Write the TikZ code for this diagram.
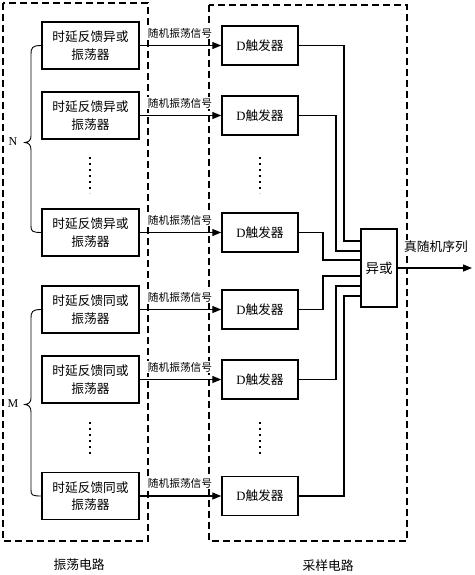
\documentclass[tikz,border=0pt]{standalone}
\usepackage{fontspec}
\setmainfont{Liberation Serif}
\newfontfamily\cjk{Noto Sans CJK SC}
\usetikzlibrary{arrows.meta}
\begin{document}
\begin{tikzpicture}[x=1pt,y=-1pt,
  oscbox/.style={draw,line width=1.5pt,minimum width=97pt,minimum height=47pt,inner sep=0pt,align=center,font=\cjk\fontsize{12.7}{17.5}\selectfont},
  dffbox/.style={draw,line width=1.5pt,minimum width=76pt,minimum height=39pt,inner sep=0pt,font=\fontsize{12.7}{15}\selectfont},
  xorbox/.style={draw,line width=1.5pt,minimum width=36pt,minimum height=78pt,inner sep=0pt,font=\cjk\fontsize{13.5}{15}\selectfont},
  sig/.style={-{Triangle[length=9pt,width=7pt]},line width=1.4pt},
  wire/.style={line width=1.2pt},
  siglabel/.style={fill=white,inner sep=1pt,font=\cjk\fontsize{10.7}{12}\selectfont},
  region/.style={line width=1.2pt,dash pattern=on 7pt off 4pt},
  vdots/.style={line width=2pt,dash pattern=on 2pt off 4pt},
  brace/.style={line width=0.9pt},
  caption/.style={font=\cjk\fontsize{12.75}{15}\selectfont}]
\useasboundingbox (0,0) rectangle (474,575);
% dashed regions
\draw[region] (3,3) rectangle (148,541);
\draw[region] (209,5) rectangle (407,541);
% oscillators
\node[oscbox] (o1) at (90.5,45.5) {时延反馈异或\\振荡器};
\node[oscbox] (o2) at (90.5,115.5) {时延反馈异或\\振荡器};
\node[oscbox] (o3) at (90.5,232.5) {时延反馈异或\\振荡器};
\node[oscbox] (o4) at (90.5,309.5) {时延反馈同或\\振荡器};
\node[oscbox] (o5) at (90.5,379.5) {时延反馈同或\\振荡器};
\node[oscbox] (o6) at (90.5,496) {时延反馈同或\\振荡器};
% D flip-flops
\node[dffbox] (d1) at (260,45.5) {D{\cjk 触发器}};
\node[dffbox] (d2) at (260,115.5) {D{\cjk 触发器}};
\node[dffbox] (d3) at (260,232.5) {D{\cjk 触发器}};
\node[dffbox] (d4) at (260,309.5) {D{\cjk 触发器}};
\node[dffbox] (d5) at (260,379.5) {D{\cjk 触发器}};
\node[dffbox] (d6) at (260,496) {D{\cjk 触发器}};
% XOR
\node[xorbox] (xor) at (379,268) {异或};
% signals
\foreach \i/\ly in {1/33,2/103,3/220,4/297,5/367,6/483}{
  \draw[sig] (o\i.east) -- (d\i.west);
  \node[siglabel] (l\i) at (180,\ly) {随机振荡信号};
}
% wiring to XOR
\draw[wire] (d1.east) -| (344,241) -- ([yshift=27pt]xor.west);
\draw[wire] (d2.east) -| (336,251) -- ([yshift=17pt]xor.west);
\draw[wire] (d3.east) -| (323,260) -- ([yshift=8pt]xor.west);
\draw[wire] (d4.east) -| (323,276) -- ([yshift=-8pt]xor.west);
\draw[wire] (d5.east) -| (336,286) -- ([yshift=-18pt]xor.west);
\draw[wire] (d6.east) -| (344,296) -- ([yshift=-28pt]xor.west);
% output
\coordinate (out) at (472,268);
\draw[sig] (xor.east) -- (out);
\node[siglabel,font=\cjk\fontsize{12.75}{15}\selectfont] (outl) at (436,247) {真随机序列};
% dots
\draw[vdots] (90,157) -- (90,193);
\draw[vdots] (260,157) -- (260,193);
\draw[vdots] (90,422) -- (90,456);
\draw[vdots] (260,422) -- (260,456);
% braces
\draw[brace] (o1.west) .. controls (32,45.5) and (31,48) .. (31,54) -- (31,136)
  .. controls (31,140) and (29,142) .. (25,142.5) .. controls (29,143) and (31,145) .. (31,150)
  -- (31,226) .. controls (31,231) and (32,232.5) .. (o3.west);
\node[font=\fontsize{12}{14}\selectfont] (nl) at (13,142) {N};
\draw[brace] (o4.west) .. controls (32,309.5) and (31,312) .. (31,318) -- (31,398)
  .. controls (31,402) and (29,404) .. (25,404.5) .. controls (29,405) and (31,407) .. (31,412)
  -- (31,490) .. controls (31,495) and (32,496) .. (o6.west);
\node[font=\fontsize{12}{14}\selectfont] (ml) at (13,404) {M};
% captions
\node[caption] (c1) at (79,565) {振荡电路};
\node[caption] (c2) at (328,566) {采样电路};
\end{tikzpicture}
\end{document}
